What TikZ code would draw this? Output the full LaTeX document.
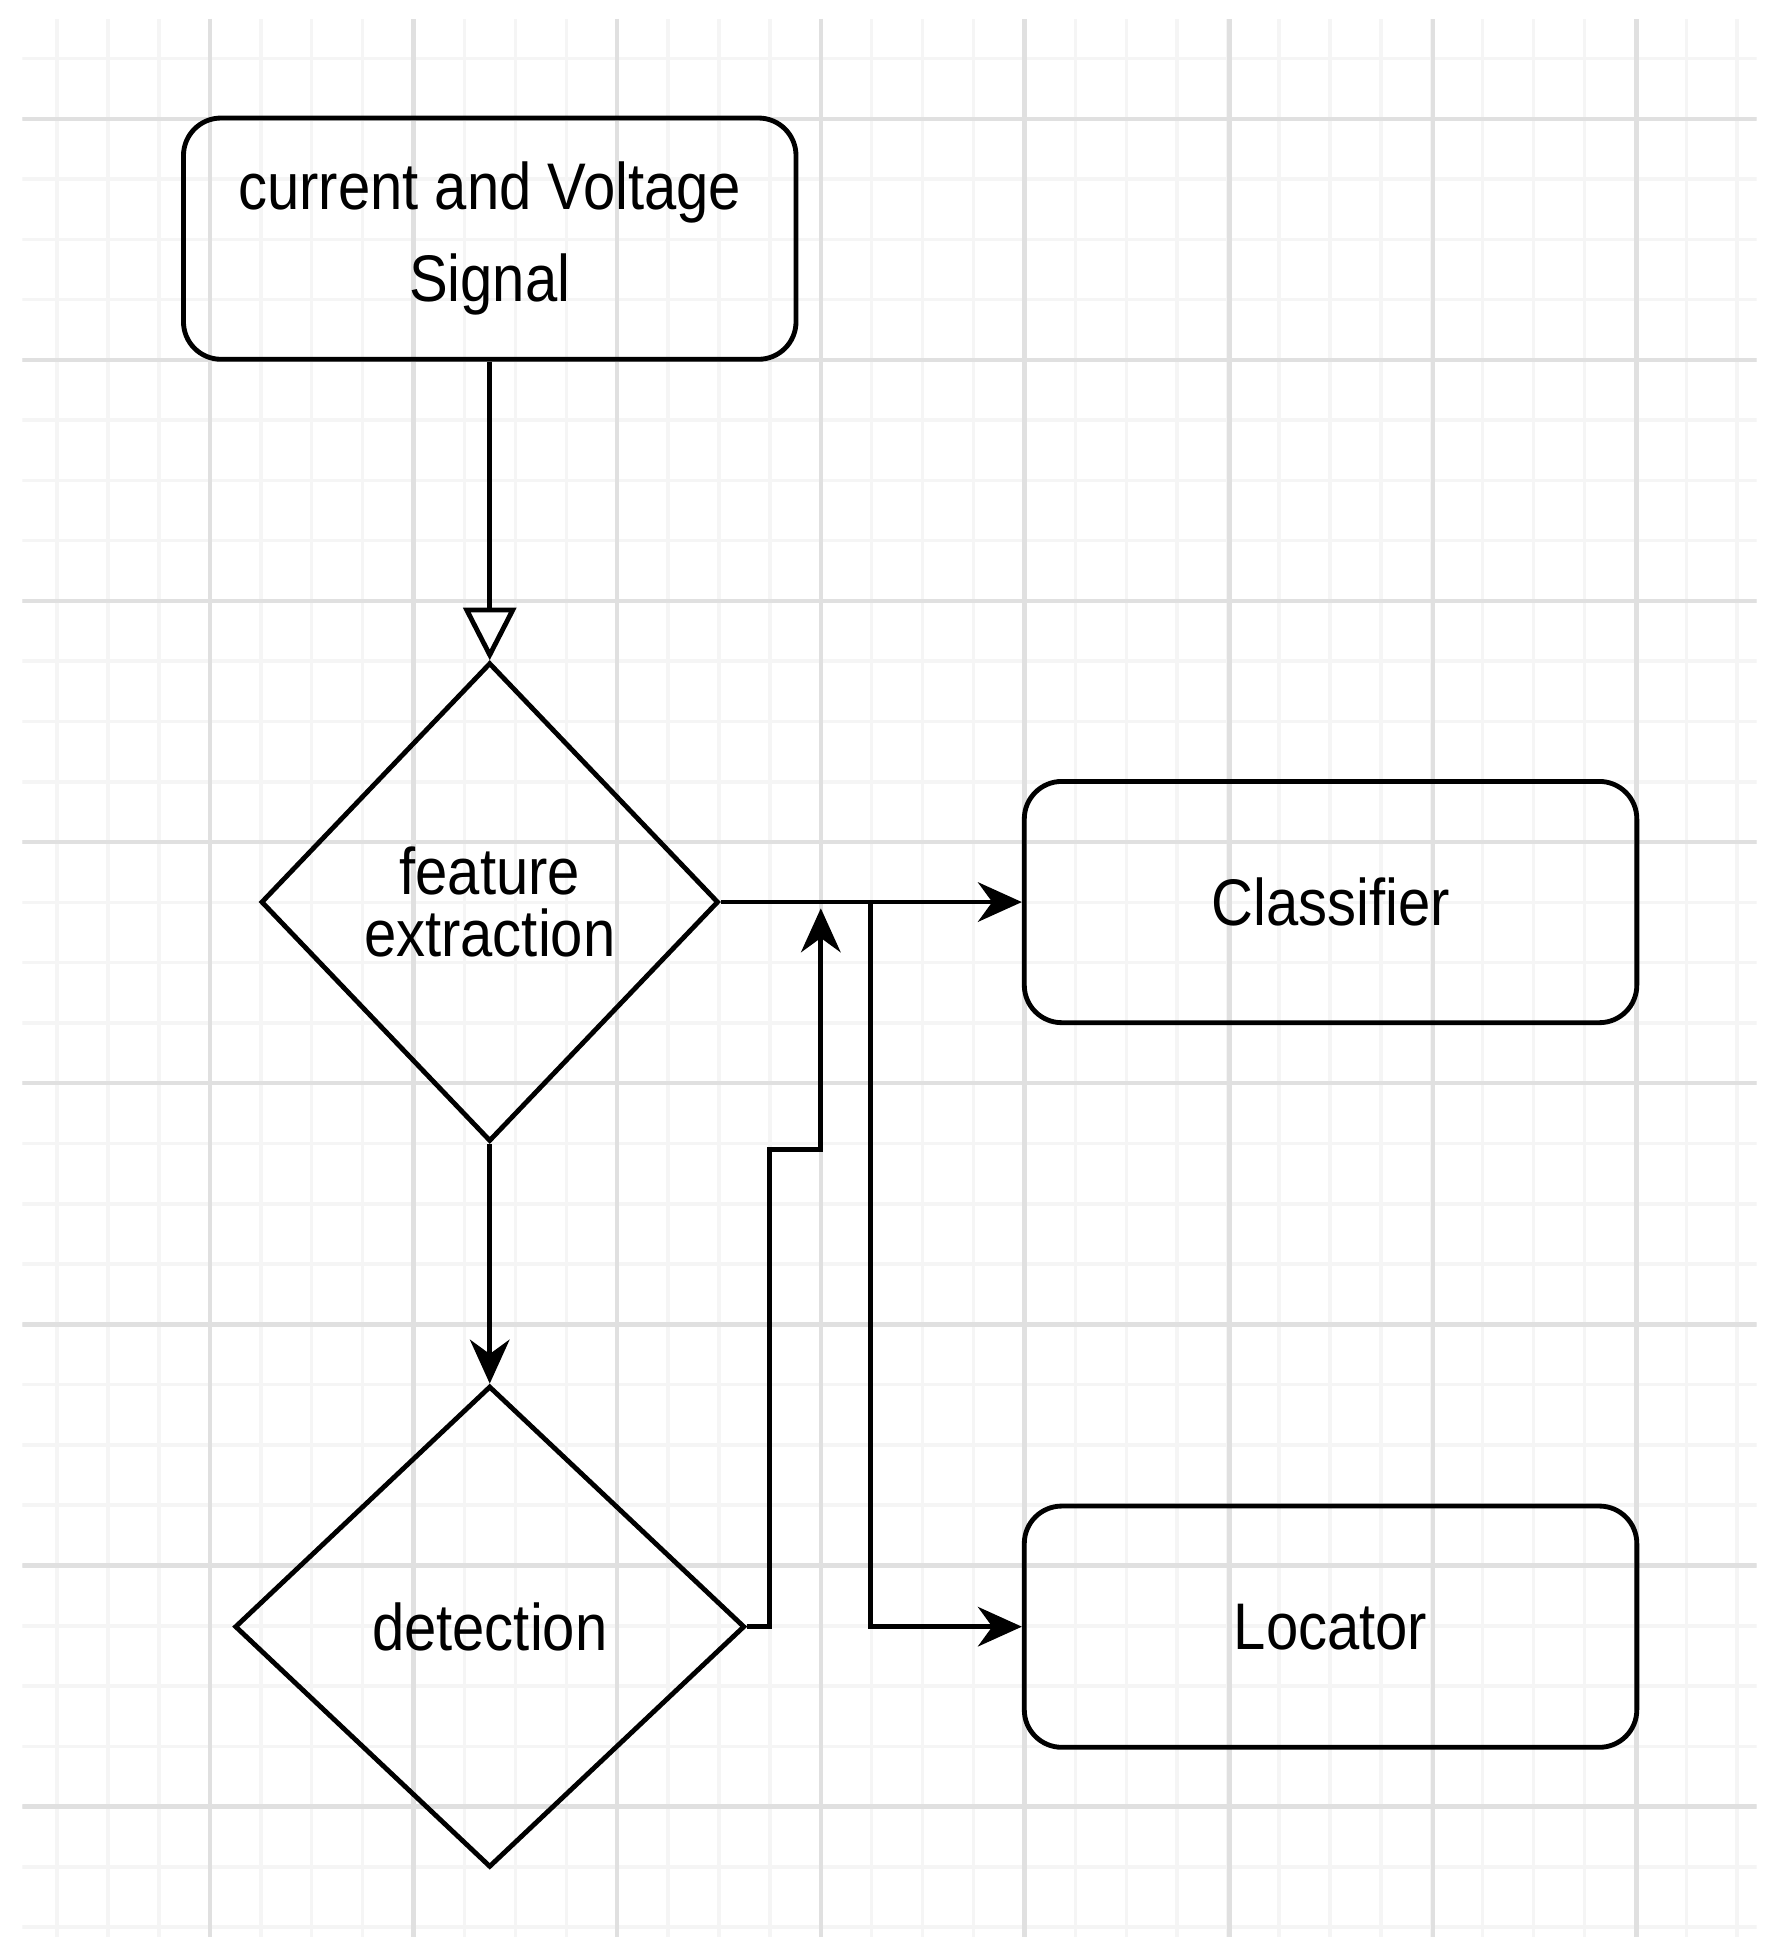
\documentclass[tikz,border=0pt]{standalone}
\usepackage{fontspec}
\setmainfont[FakeStretch=0.88]{Liberation Sans}
\usetikzlibrary{shapes.geometric,arrows.meta}
\begin{document}
\begin{tikzpicture}[x=0.01cm,y=-0.01cm,
  box/.style={draw,line width=1.1pt,rounded corners=0.3cm,minimum width=4.9cm,minimum height=1.93cm,align=center,font=\fontsize{15}{21}\selectfont,inner sep=0pt},
  dia/.style={draw,line width=1.1pt,diamond,align=center,font=\fontsize{15}{14}\selectfont,inner sep=0pt},
  con/.style={line width=1.1pt},
  sarr/.style={con,-{Stealth[length=10pt,width=9pt]}}]
\useasboundingbox (0,0) rectangle (1412,1556);
% grid
\begin{scope}
\clip (18,15) rectangle (1406,1550);
\foreach \i in {-1,...,32} {\draw[black!4,line width=0.8pt] (18,{95+\i*48.25}) -- (1406,{95+\i*48.25});}
\foreach \i in {-4,...,32} {\draw[black!4,line width=0.8pt] ({168+\i*40.75},15) -- ({168+\i*40.75},1550);}
\foreach \y in {95,288,481,674,867,1060,1253,1446} {\draw[black!12,line width=1pt] (18,\y) -- (1406,\y);}
\foreach \x in {168,331,494,657,820,984,1147,1310} {\draw[black!12,line width=1pt] (\x,15) -- (\x,1550);}
\end{scope}
% nodes
\node[box] (src) at (392,191) {current and Voltage\\Signal};
\node[dia,minimum width=3.66cm,minimum height=3.83cm] (fe) at (392,722) {feature\\extraction};
\node[dia,minimum width=4.08cm,minimum height=3.85cm] (det) at (392,1302) {detection};
\node[box] (cls) at (1065,722) {Classifier};
\node[box] (loc) at (1065,1302) {Locator};
\coordinate (j1) at (697,722);
\coordinate (m) at (657,727);
% connectors
\draw[con,-{Triangle[open,length=12pt,width=12pt]}] (src.south) -- (fe.north);
\draw[sarr] (fe.east) -- (cls.west);
\draw[sarr] (fe.south) -- (det.north);
\draw[sarr] (j1) |- (loc.west);
\draw[sarr] (det.east) -- (616,1302) -- (616,920) -- (657,920) -- (m);
\end{tikzpicture}
\end{document}
